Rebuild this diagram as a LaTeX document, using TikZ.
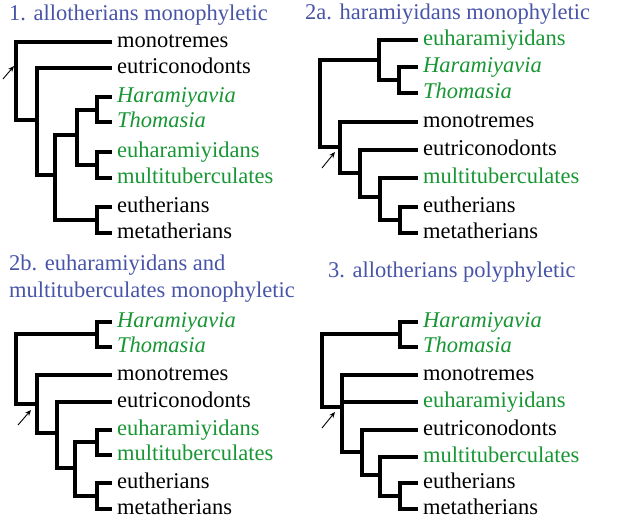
\documentclass[tikz,border=0pt]{standalone}
\usepackage{fontspec}
\setmainfont{Liberation Serif}
\usetikzlibrary{arrows.meta}
\definecolor{titel}{RGB}{72, 84, 168}
\definecolor{gruen}{RGB}{24, 150, 52}
\tikzset{
    head/.style={anchor=west, text=titel, inner sep=0pt},
    taxon/.style={anchor=west, inner xsep=5pt, inner ysep=0pt, text height=14pt, text depth=4pt},
    allo/.style={taxon, text=gruen},
    br/.style={line width=4.8pt, line join=miter},
    root/.style={-{Stealth[length=6pt,width=5pt]}, line width=0.9pt},
}
\begin{document}
\fontsize{22.5}{27}\selectfont
\begin{tikzpicture}[x=1pt, y=-1pt]
    \useasboundingbox (0,0) rectangle (620,528);

    % 1. allotherians monophyletic
    \node[head] (t1) at (9,15) {1. allotherians monophyletic};
    \node[taxon] (mo1) at (112,42) {monotremes};
    \node[taxon] (ec1) at (112,68) {eutriconodonts};
    \node[allo] (ha1) at (112,97) {\itshape Haramiyavia};
    \node[allo] (th1) at (112,122) {\itshape Thomasia};
    \node[allo] (eh1) at (112,152) {euharamiyidans};
    \node[allo] (mu1) at (112,178) {multituberculates};
    \node[taxon] (eu1) at (112,207) {eutherians};
    \node[taxon] (me1) at (112,233) {metatherians};
    \draw[br] (mo1.west) -| (16,120) -- (37,120);
    \draw[br] (ec1.west) -| (37,175) -- (55,175);
    \draw[br] (77,135) -- (55,135) -- (55,220) -- (97,220);
    \draw[br] (97,110) -- (77,110) -- (77,165) -- (97,165);
    \draw[br] (ha1.west) -- (97,97) -- (97,122) -- (th1.west);
    \draw[br] (eh1.west) -- (97,152) -- (97,178) -- (mu1.west);
    \draw[br] (eu1.west) -- (97,207) -- (97,233) -- (me1.west);
    \coordinate (a1) at (3,79);
    \draw[root] (a1) -- (14,66);

    % 2a. haramiyidans monophyletic
    \node[head] (t2a) at (305,14) {2a. haramiyidans monophyletic};
    \node[allo] (eh2) at (418,40) {euharamiyidans};
    \node[allo] (ha2) at (418,67) {\itshape Haramiyavia};
    \node[allo] (th2) at (418,93) {\itshape Thomasia};
    \node[taxon] (mo2) at (418,122) {monotremes};
    \node[taxon] (ec2) at (418,150) {eutriconodonts};
    \node[allo] (mu2) at (418,178) {multituberculates};
    \node[taxon] (eu2) at (418,207) {eutherians};
    \node[taxon] (me2) at (418,233) {metatherians};
    \draw[br] (ha2.west) -- (399,67) -- (399,93) -- (th2.west);
    \draw[br] (eh2.west) -| (379,80) -- (399,80);
    \draw[br] (379,60) -| (320,147) -- (340,147);
    \draw[br] (mo2.west) -| (340,173) -- (360,173);
    \draw[br] (ec2.west) -| (360,197) -- (380,197);
    \draw[br] (mu2.west) -| (380,220) -- (400,220);
    \draw[br] (eu2.west) -- (400,207) -- (400,233) -- (me2.west);
    \coordinate (a2) at (322,168);
    \draw[root] (a2) -- (335,152);

    % 2b. euharamiyidans and multituberculates monophyletic
    \node[head, align=left] (t2b) at (9,279) {2b. euharamiyidans and\\multituberculates monophyletic};
    \node[allo] (ha3) at (112,322) {\itshape Haramiyavia};
    \node[allo] (th3) at (112,347) {\itshape Thomasia};
    \node[taxon] (mo3) at (112,375) {monotremes};
    \node[taxon] (ec3) at (112,402) {eutriconodonts};
    \node[allo] (eh3) at (112,430) {euharamiyidans};
    \node[allo] (mu3) at (112,455) {multituberculates};
    \node[taxon] (eu3) at (112,483) {eutherians};
    \node[taxon] (me3) at (112,509) {metatherians};
    \draw[br] (ha3.west) -- (97,322) -- (97,347) -- (th3.west);
    \draw[br] (97,334) -| (16,404) -- (37,404);
    \draw[br] (mo3.west) -| (37,433) -- (57,433);
    \draw[br] (ec3.west) -| (57,468) -- (75,468);
    \draw[br] (97,442) -- (75,442) -- (75,496) -- (97,496);
    \draw[br] (eh3.west) -- (97,430) -- (97,455) -- (mu3.west);
    \draw[br] (eu3.west) -- (97,483) -- (97,509) -- (me3.west);
    \coordinate (a3) at (18,425);
    \draw[root] (a3) -- (31,410);

    % 3. allotherians polyphyletic
    \node[head] (t3) at (328,272) {3. allotherians polyphyletic};
    \node[allo] (ha4) at (418,322) {\itshape Haramiyavia};
    \node[allo] (th4) at (418,347) {\itshape Thomasia};
    \node[taxon] (mo4) at (418,375) {monotremes};
    \node[allo] (eh4) at (418,402) {euharamiyidans};
    \node[taxon] (ec4) at (418,430) {eutriconodonts};
    \node[allo] (mu4) at (418,457) {multituberculates};
    \node[taxon] (eu4) at (418,483) {eutherians};
    \node[taxon] (me4) at (418,509) {metatherians};
    \draw[br] (ha4.west) -- (400,322) -- (400,347) -- (th4.west);
    \draw[br] (400,334) -| (322,407) -- (342,407);
    \draw[br] (mo4.west) -| (342,452) -- (362,452);
    \draw[br] (eh4.west) -- (342,402);
    \draw[br] (ec4.west) -| (362,475) -- (380,475);
    \draw[br] (mu4.west) -| (380,496) -- (400,496);
    \draw[br] (eu4.west) -- (400,483) -- (400,509) -- (me4.west);
    \coordinate (a4) at (322,428);
    \draw[root] (a4) -- (335,412);
\end{tikzpicture}
\end{document}
